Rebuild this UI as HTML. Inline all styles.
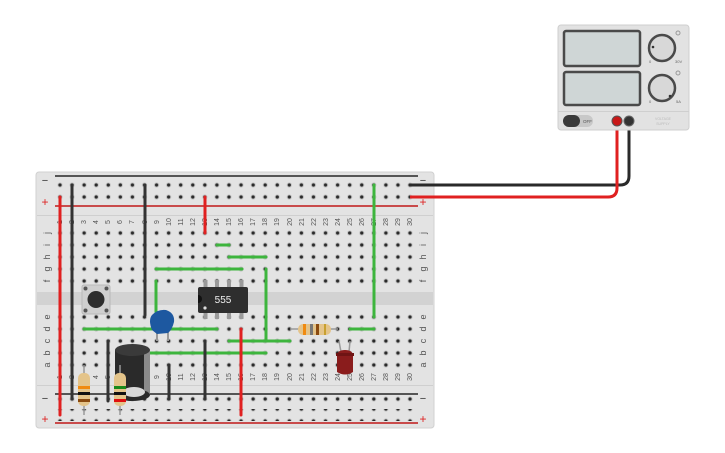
<!DOCTYPE html>
<html><head><meta charset="utf-8"><style>
html,body{margin:0;padding:0;background:#fff;width:725px;height:453px;overflow:hidden}
svg{display:block}
text{font-family:"Liberation Sans",sans-serif}
</style></head><body>
<svg width="725" height="453" viewBox="0 0 725 453" xmlns="http://www.w3.org/2000/svg">
<defs>
<pattern id="h" x="53.965" y="-1" width="12.07" height="12" patternUnits="userSpaceOnUse">
<circle cx="6.035" cy="6" r="2.6" fill="#c4c4c4"/><circle cx="6.035" cy="6" r="1.6" fill="#2a2a2a"/></pattern>
<pattern id="hb" x="53.965" y="-3" width="12.07" height="12" patternUnits="userSpaceOnUse">
<circle cx="6.035" cy="6" r="2.6" fill="#c4c4c4"/><circle cx="6.035" cy="6" r="1.6" fill="#2a2a2a"/></pattern>
<pattern id="hc" x="53.965" y="-5" width="12.07" height="12" patternUnits="userSpaceOnUse">
<circle cx="6.035" cy="6" r="2.6" fill="#c4c4c4"/><circle cx="6.035" cy="6" r="1.6" fill="#2a2a2a"/></pattern>
</defs>

<!-- breadboard -->
<rect x="36" y="172" width="398" height="256" rx="3" fill="#e3e3e3" stroke="#d0d0d0"/>
<rect x="37" y="215" width="396" height="1" fill="#cfcfcf"/>
<rect x="37" y="385" width="396" height="1" fill="#cfcfcf"/>
<rect x="37" y="292" width="396" height="13" fill="#d2d2d2"/>
<!-- rail lines -->
<rect x="55" y="175" width="363" height="2" fill="#555"/>
<rect x="55" y="205" width="363" height="2" fill="#c94b4b"/>
<rect x="55" y="393" width="363" height="2" fill="#555"/>
<rect x="55" y="422" width="363" height="2" fill="#c94b4b"/>
<text x="45" y="184" font-size="11" fill="#333" text-anchor="middle">−</text>
<text x="45" y="206" font-size="12" fill="#d22" text-anchor="middle">+</text>
<text x="423" y="184" font-size="11" fill="#333" text-anchor="middle">−</text>
<text x="423" y="206" font-size="12" fill="#d22" text-anchor="middle">+</text>
<text x="45" y="402" font-size="11" fill="#333" text-anchor="middle">−</text>
<text x="45" y="423" font-size="12" fill="#d22" text-anchor="middle">+</text>
<text x="423" y="402" font-size="11" fill="#333" text-anchor="middle">−</text>
<text x="423" y="423" font-size="12" fill="#d22" text-anchor="middle">+</text>
<!-- holes -->
<rect x="54" y="179" width="362" height="24" fill="url(#h)"/>
<rect x="54" y="227" width="362" height="60" fill="url(#h)"/>
<rect x="54" y="311" width="362" height="60" fill="url(#h)"/>
<rect x="54" y="393" width="362" height="12" fill="url(#hb)"/>
<rect x="54" y="409" width="362" height="12" fill="url(#hc)"/>

<!-- column numbers -->
<g font-size="7" fill="#555">
<g id="topnums">
<text transform="translate(62,222) rotate(-90)" text-anchor="middle">1</text>
<text transform="translate(74,222) rotate(-90)" text-anchor="middle">2</text>
<text transform="translate(86,222) rotate(-90)" text-anchor="middle">3</text>
<text transform="translate(98,222) rotate(-90)" text-anchor="middle">4</text>
<text transform="translate(110,222) rotate(-90)" text-anchor="middle">5</text>
<text transform="translate(122,222) rotate(-90)" text-anchor="middle">6</text>
<text transform="translate(134,222) rotate(-90)" text-anchor="middle">7</text>
<text transform="translate(147,222) rotate(-90)" text-anchor="middle">8</text>
<text transform="translate(159,222) rotate(-90)" text-anchor="middle">9</text>
<text transform="translate(171,222) rotate(-90)" text-anchor="middle">10</text>
<text transform="translate(183,222) rotate(-90)" text-anchor="middle">11</text>
<text transform="translate(195,222) rotate(-90)" text-anchor="middle">12</text>
<text transform="translate(207,222) rotate(-90)" text-anchor="middle">13</text>
<text transform="translate(219,222) rotate(-90)" text-anchor="middle">14</text>
<text transform="translate(231,222) rotate(-90)" text-anchor="middle">15</text>
<text transform="translate(243,222) rotate(-90)" text-anchor="middle">16</text>
<text transform="translate(255,222) rotate(-90)" text-anchor="middle">17</text>
<text transform="translate(267,222) rotate(-90)" text-anchor="middle">18</text>
<text transform="translate(279,222) rotate(-90)" text-anchor="middle">19</text>
<text transform="translate(292,222) rotate(-90)" text-anchor="middle">20</text>
<text transform="translate(304,222) rotate(-90)" text-anchor="middle">21</text>
<text transform="translate(316,222) rotate(-90)" text-anchor="middle">22</text>
<text transform="translate(328,222) rotate(-90)" text-anchor="middle">23</text>
<text transform="translate(340,222) rotate(-90)" text-anchor="middle">24</text>
<text transform="translate(352,222) rotate(-90)" text-anchor="middle">25</text>
<text transform="translate(364,222) rotate(-90)" text-anchor="middle">26</text>
<text transform="translate(376,222) rotate(-90)" text-anchor="middle">27</text>
<text transform="translate(388,222) rotate(-90)" text-anchor="middle">28</text>
<text transform="translate(400,222) rotate(-90)" text-anchor="middle">29</text>
<text transform="translate(412,222) rotate(-90)" text-anchor="middle">30</text>
</g>
<g transform="translate(0,155)">
<text transform="translate(62,222) rotate(-90)" text-anchor="middle">1</text>
<text transform="translate(74,222) rotate(-90)" text-anchor="middle">2</text>
<text transform="translate(86,222) rotate(-90)" text-anchor="middle">3</text>
<text transform="translate(98,222) rotate(-90)" text-anchor="middle">4</text>
<text transform="translate(110,222) rotate(-90)" text-anchor="middle">5</text>
<text transform="translate(122,222) rotate(-90)" text-anchor="middle">6</text>
<text transform="translate(134,222) rotate(-90)" text-anchor="middle">7</text>
<text transform="translate(147,222) rotate(-90)" text-anchor="middle">8</text>
<text transform="translate(159,222) rotate(-90)" text-anchor="middle">9</text>
<text transform="translate(171,222) rotate(-90)" text-anchor="middle">10</text>
<text transform="translate(183,222) rotate(-90)" text-anchor="middle">11</text>
<text transform="translate(195,222) rotate(-90)" text-anchor="middle">12</text>
<text transform="translate(207,222) rotate(-90)" text-anchor="middle">13</text>
<text transform="translate(219,222) rotate(-90)" text-anchor="middle">14</text>
<text transform="translate(231,222) rotate(-90)" text-anchor="middle">15</text>
<text transform="translate(243,222) rotate(-90)" text-anchor="middle">16</text>
<text transform="translate(255,222) rotate(-90)" text-anchor="middle">17</text>
<text transform="translate(267,222) rotate(-90)" text-anchor="middle">18</text>
<text transform="translate(279,222) rotate(-90)" text-anchor="middle">19</text>
<text transform="translate(292,222) rotate(-90)" text-anchor="middle">20</text>
<text transform="translate(304,222) rotate(-90)" text-anchor="middle">21</text>
<text transform="translate(316,222) rotate(-90)" text-anchor="middle">22</text>
<text transform="translate(328,222) rotate(-90)" text-anchor="middle">23</text>
<text transform="translate(340,222) rotate(-90)" text-anchor="middle">24</text>
<text transform="translate(352,222) rotate(-90)" text-anchor="middle">25</text>
<text transform="translate(364,222) rotate(-90)" text-anchor="middle">26</text>
<text transform="translate(376,222) rotate(-90)" text-anchor="middle">27</text>
<text transform="translate(388,222) rotate(-90)" text-anchor="middle">28</text>
<text transform="translate(400,222) rotate(-90)" text-anchor="middle">29</text>
<text transform="translate(412,222) rotate(-90)" text-anchor="middle">30</text>
</g>
</g>
<!-- row letters -->
<g font-size="9" fill="#555" text-anchor="middle">
<text transform="translate(50,233) rotate(-90)">j</text><text transform="translate(50,245) rotate(-90)">i</text><text transform="translate(50,257) rotate(-90)">h</text><text transform="translate(50,269) rotate(-90)">g</text><text transform="translate(50,281) rotate(-90)">f</text>
<text transform="translate(50,317) rotate(-90)">e</text><text transform="translate(50,329) rotate(-90)">d</text><text transform="translate(50,341) rotate(-90)">c</text><text transform="translate(50,353) rotate(-90)">b</text><text transform="translate(50,365) rotate(-90)">a</text>
<text transform="translate(426,233) rotate(-90)">j</text><text transform="translate(426,245) rotate(-90)">i</text><text transform="translate(426,257) rotate(-90)">h</text><text transform="translate(426,269) rotate(-90)">g</text><text transform="translate(426,281) rotate(-90)">f</text>
<text transform="translate(426,317) rotate(-90)">e</text><text transform="translate(426,329) rotate(-90)">d</text><text transform="translate(426,341) rotate(-90)">c</text><text transform="translate(426,353) rotate(-90)">b</text><text transform="translate(426,365) rotate(-90)">a</text>
</g>

<!-- wires -->
<g stroke-width="3" stroke-linecap="round" fill="none">
<line x1="60" y1="197" x2="60" y2="415" stroke="#e02020"/>
<line x1="72" y1="185" x2="72" y2="399" stroke="#333"/>
<line x1="145" y1="185" x2="145" y2="315" stroke="#333"/>
<line x1="205" y1="197" x2="205" y2="233" stroke="#e02020"/>
<line x1="217" y1="245" x2="229" y2="245" stroke="#3db53d"/>
<line x1="229" y1="257" x2="266" y2="257" stroke="#3db53d"/>
<line x1="156" y1="269" x2="242" y2="269" stroke="#3db53d"/>
<line x1="156" y1="281" x2="156" y2="312" stroke="#3db53d"/>
<line x1="266" y1="269" x2="266" y2="341" stroke="#3db53d"/>
<line x1="229" y1="341" x2="290" y2="341" stroke="#3db53d"/>
<line x1="84" y1="329" x2="217" y2="329" stroke="#3db53d"/>
<line x1="150" y1="353" x2="266" y2="353" stroke="#3db53d"/>
<line x1="374" y1="185" x2="374" y2="317" stroke="#3db53d"/>
<line x1="350" y1="329" x2="374" y2="329" stroke="#3db53d"/>
<line x1="108" y1="341" x2="108" y2="401" stroke="#333"/>
<line x1="169" y1="365" x2="169" y2="399" stroke="#333"/>
<line x1="205" y1="341" x2="205" y2="399" stroke="#333"/>
<line x1="241" y1="329" x2="241" y2="415" stroke="#e02020"/>
</g>

<!-- pushbutton -->
<rect x="82" y="285" width="28" height="29" rx="2" fill="#cfcfcf" stroke="#b8b8b8"/>
<circle cx="85.5" cy="288.5" r="2" fill="#555"/><circle cx="106.5" cy="288.5" r="2" fill="#555"/>
<circle cx="85.5" cy="310.5" r="2" fill="#555"/><circle cx="106.5" cy="310.5" r="2" fill="#555"/>
<circle cx="96" cy="299.5" r="8.5" fill="#2d2d2d"/>

<!-- 555 -->
<g fill="#9a9a9a">
<rect x="203.5" y="280" width="4" height="8"/><rect x="215" y="280" width="4" height="8"/><rect x="227" y="280" width="4" height="8"/><rect x="239.5" y="280" width="4" height="8"/>
<rect x="203.5" y="312" width="4" height="7"/><rect x="215" y="312" width="4" height="7"/><rect x="227" y="312" width="4" height="7"/><rect x="239.5" y="312" width="4" height="7"/>
</g>
<rect x="198" y="287" width="50" height="26" rx="2" fill="#2e2e2e"/>
<path d="M198 295 a4 4 0 0 1 0 8z" fill="#111"/>
<circle cx="205" cy="308" r="1.6" fill="#ddd"/>
<text x="223" y="303" font-size="10" fill="#eee" text-anchor="middle">555</text>

<!-- ceramic cap -->
<line x1="157" y1="328" x2="157" y2="341" stroke="#999" stroke-width="2"/>
<line x1="168" y1="328" x2="168" y2="341" stroke="#999" stroke-width="2"/>
<path d="M152 330 Q148 320 152 315 Q158 309 166 310 Q175 313 174 322 Q172 330 168 333 L157 334 Z" fill="#1d58a0"/>

<!-- electrolytic cap -->
<rect x="115" y="350" width="35" height="45" fill="#2a2a2a"/>
<rect x="144" y="350" width="6" height="45" fill="#8a8a8a"/>
<ellipse cx="132.5" cy="350" rx="17.5" ry="6" fill="#3a3a3a"/>
<ellipse cx="132.5" cy="395" rx="17.5" ry="6" fill="#2a2a2a"/>
<ellipse cx="134" cy="392" rx="11" ry="5" fill="#d8d8d8"/>

<!-- vertical resistors -->
<g>
<line x1="84" y1="365" x2="84" y2="415" stroke="#999" stroke-width="1.5"/>
<rect x="78" y="373" width="12" height="33" rx="5" fill="#e4c48a"/>
<rect x="78" y="386" width="12" height="3" fill="#f08a10"/>
<rect x="78" y="392" width="12" height="3" fill="#111"/>
<rect x="78" y="399" width="12" height="3" fill="#8a4a10"/>
<line x1="120" y1="365" x2="120" y2="415" stroke="#999" stroke-width="1.5"/>
<rect x="114" y="373" width="12" height="33" rx="5" fill="#e4c48a"/>
<rect x="114" y="386" width="12" height="3" fill="#1a8a1a"/>
<rect x="114" y="392" width="12" height="3" fill="#111"/>
<rect x="114" y="399" width="12" height="3" fill="#e01010"/>
</g>

<!-- horizontal resistor -->
<line x1="290" y1="329" x2="338" y2="329" stroke="#999" stroke-width="1.5"/>
<rect x="298" y="324" width="33" height="11" rx="5" fill="#e4c48a"/>
<rect x="303" y="324" width="3" height="11" fill="#f08a10"/>
<rect x="310" y="324" width="3" height="11" fill="#777"/>
<rect x="316" y="324" width="3" height="11" fill="#8a4a10"/>
<rect x="324" y="324" width="2" height="11" fill="#c8a030"/>

<!-- LED -->
<line x1="339" y1="341" x2="341" y2="352" stroke="#999" stroke-width="1.5"/>
<line x1="350" y1="341" x2="349" y2="352" stroke="#999" stroke-width="1.5"/>
<path d="M337 356 Q337 350 345 350 Q353 350 353 356 L353 372 Q345 377 337 372 Z" fill="#8a1c1c"/>
<rect x="336" y="353" width="18" height="3" fill="#6f1414"/>

<!-- supply wires -->
<path d="M410 185 L620 185 Q629 185 629 176 L629 121" stroke="#2a2a2a" stroke-width="3" fill="none"/>
<path d="M410 197 L608 197 Q617 197 617 188 L617 121" stroke="#e02020" stroke-width="3" fill="none"/>

<!-- power supply -->
<rect x="558" y="25" width="131" height="105" rx="3" fill="#e2e2e2" stroke="#cfcfcf"/>
<rect x="558" y="111" width="131" height="1" fill="#cfcfcf"/>
<rect x="564" y="31" width="76" height="35" rx="2" fill="#cfd6d6" stroke="#4a4a4a" stroke-width="2.5"/>
<rect x="564" y="72" width="76" height="33" rx="2" fill="#cfd6d6" stroke="#4a4a4a" stroke-width="2.5"/>
<circle cx="662" cy="48" r="13" fill="#d8d8d8" stroke="#4a4a4a" stroke-width="2.5"/>
<circle cx="653" cy="47" r="1.3" fill="#333"/>
<circle cx="662" cy="88" r="13" fill="#d8d8d8" stroke="#4a4a4a" stroke-width="2.5"/>
<circle cx="670" cy="96" r="1.3" fill="#333"/>
<circle cx="678" cy="33" r="2" fill="none" stroke="#999"/><circle cx="678" cy="73" r="2" fill="none" stroke="#999"/>
<text x="649" y="63" font-size="4" fill="#666">0</text><text x="675" y="63" font-size="4" fill="#666">30V</text>
<text x="649" y="103" font-size="4" fill="#666">0</text><text x="676" y="103" font-size="4" fill="#666">5A</text>
<rect x="563" y="115" width="30" height="12" rx="6" fill="#c8c8c8"/>
<rect x="563" y="115" width="17" height="12" rx="6" fill="#3a3a3a"/>
<text x="583" y="123" font-size="4.5" fill="#555">OFF</text>
<text x="663" y="120" font-size="3.5" fill="#bbb" text-anchor="middle">VOLTAGE</text>
<text x="663" y="125" font-size="3.5" fill="#bbb" text-anchor="middle">SUPPLY</text>
<circle cx="617" cy="121" r="5" fill="#c81818" stroke="#555" stroke-width="1"/>
<circle cx="629" cy="121" r="5" fill="#333" stroke="#666" stroke-width="1"/>
</svg>
</body></html>
